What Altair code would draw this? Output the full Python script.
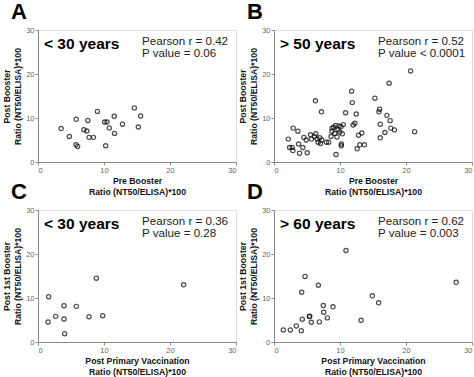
import altair as alt
import pandas as pd

FONT = "Liberation Sans"

# Panel A: < 30 years, pre booster vs post booster
a_x = [3.5, 4.75, 5.8, 5.75, 6.0, 6.95, 7.4, 7.55, 7.75, 8.4, 9.0, 10.1, 10.45, 10.25, 10.8, 11.55, 11.6, 12.8, 14.6, 15.2, 15.55]
a_y = [7.6, 5.8, 9.7, 3.9, 3.55, 7.35, 7.05, 9.45, 5.6, 5.6, 11.5, 9.1, 9.1, 3.7, 7.75, 10.4, 6.5, 8.6, 12.3, 7.95, 10.45]

# Panel B: > 50 years
b_x = [2.16, 2.36, 2.76, 2.86, 2.91, 3.62, 3.72, 3.87, 4.37, 4.52, 4.87, 5.03, 5.53, 5.68, 6.13, 6.33, 6.28, 6.53, 6.68,
       6.93, 7.04, 7.19, 7.24, 7.94, 8.29, 8.64, 8.79, 8.79, 9.05, 9.2, 9.35, 9.4, 9.55, 9.7, 9.85, 9.95, 10.15, 10.2,
       10.2, 10.35, 10.5, 10.85, 11.76, 11.86, 12.0, 12.26, 12.46, 12.6, 12.81, 13.0, 13.3, 13.7, 15.3, 15.9, 16.0,
       16.1, 16.1, 16.8, 17.1, 17.45, 17.6, 17.7, 18.25, 20.7, 21.3]
b_y = [5.2, 3.3, 3.3, 2.6, 7.7, 7.0, 4.1, 2.0, 3.3, 5.6, 5.0, 2.1, 6.2, 5.2, 5.8, 6.4, 13.9, 5.2, 4.5,
       5.5, 4.2, 11.4, 5.0, 4.5, 4.5, 5.8, 7.7, 7.0, 7.9, 6.5, 8.3, 1.7, 5.7, 7.3, 8.2, 6.8, 8.0, 4.1,
       3.7, 6.4, 8.5, 11.2, 16.1, 13.5, 8.4, 8.8, 10.9, 3.0, 6.1, 3.9, 6.6, 3.9, 14.5, 11.4, 12.0,
       8.6, 5.5, 6.7, 10.6, 17.9, 9.4, 7.7, 7.3, 20.7, 6.9]

# Panel C: < 30 years, post primary vaccination vs post 1st booster
c_x = [1.52, 1.62, 2.68, 3.94, 3.94, 4.04, 5.81, 7.73, 8.84, 9.8, 22.07]
c_y = [4.55, 10.3, 5.83, 5.23, 8.26, 1.89, 8.1, 5.76, 14.5, 5.98, 13.0]

# Panel D: > 60 years
d_x = [1.41, 2.47, 3.38, 4.14, 4.29, 4.19, 4.7, 5.35, 5.42, 5.66, 6.72, 6.87, 7.47, 7.53, 8.08, 8.94, 10.9, 13.2, 14.9, 15.86, 27.6]
d_y = [2.74, 2.74, 3.65, 2.58, 5.18, 11.3, 14.9, 5.78, 5.88, 4.49, 12.9, 4.57, 8.3, 6.78, 5.48, 8.0, 20.8, 4.95, 10.5, 8.9, 13.56]

letters = ["A", "B", "C", "D"]
groups = ["< 30 years", "> 50 years", "< 30 years", "> 60 years"]
stats = [["Pearson r = 0.42", "P value = 0.06"],
         ["Pearson r = 0.52", "P value < 0.0001"],
         ["Pearson r = 0.36", "P value = 0.28"],
         ["Pearson r = 0.62", "P value = 0.003"]]
x_titles = [["Pre Booster", "Ratio (NT50/ELISA)*100"],
            ["Pre Booster", "Ratio (NT50/ELISA)*100"],
            ["Post Primary Vaccination", "Ratio (NT50/ELISA)*100"],
            ["Post Primary Vaccination", "Ratio (NT50/ELISA)*100"]]
y_titles = [["Post Booster", "Ratio (NT50/ELISA)*100"],
            ["Post Booster", "Ratio (NT50/ELISA)*100"],
            ["Post 1st Booster", "Ratio (NT50/ELISA)*100"],
            ["Post 1st Booster", "Ratio (NT50/ELISA)*100"]]
ticks = [0, 10, 20, 30]

W, H = 198, 132


def axis(title):
    return alt.Axis(values=ticks, title=title, grid=False, tickSize=3, labelPadding=1,
                    labelFontSize=7.5, labelColor="#666", labelFont=FONT,
                    titleFont=FONT, titleFontSize=8.7, titleFontWeight="bold", titleColor="#111",
                    titleLineHeight=11, titlePadding=3, domainColor="#888", tickColor="#888")


def panel(i, xs, ys):
    df = pd.DataFrame({"x": xs, "y": ys})
    pts = alt.Chart(df).mark_point(shape="circle", filled=False, color="black", size=18, strokeWidth=1.2).encode(
        x=alt.X("x:Q", scale=alt.Scale(domain=[0, 30], nice=False), axis=axis(x_titles[i])),
        y=alt.Y("y:Q", scale=alt.Scale(domain=[0, 30], nice=False), axis=axis(y_titles[i])),
    )
    lab = alt.Chart(pd.DataFrame({"t": [groups[i]]})).mark_text(
        align="left", baseline="alphabetic", font=FONT, fontSize=15.5, fontWeight="bold", color="black"
    ).encode(text="t:N", x=alt.value(6), y=alt.value(19))
    st = alt.Chart(pd.DataFrame({"t": [0]})).mark_text(
        align="left", baseline="alphabetic", font=FONT, fontSize=11.6, color="#222", lineHeight=12.5
    ).encode(text=alt.value(stats[i]), x=alt.value(104), y=alt.value(14.5))
    return alt.layer(pts, lab, st).properties(
        width=W, height=H,
        title=alt.TitleParams(text=letters[i], anchor="start", frame="group", font=FONT, fontSize=22,
                              fontWeight="bold", color="black", dx=-27, offset=2),
    )


chart = alt.concat(
    panel(0, a_x, a_y), panel(1, b_x, b_y), panel(2, c_x, c_y), panel(3, d_x, d_y),
    columns=2, spacing={"row": 48, "column": 38}, bounds="flush",
).properties(padding={"left": 2, "top": 0, "right": 0, "bottom": 0}).configure_view(
    stroke="#888", strokeWidth=1
).configure(background="white")

chart.save("out.html", embed_options={"renderer": "svg", "actions": False})
